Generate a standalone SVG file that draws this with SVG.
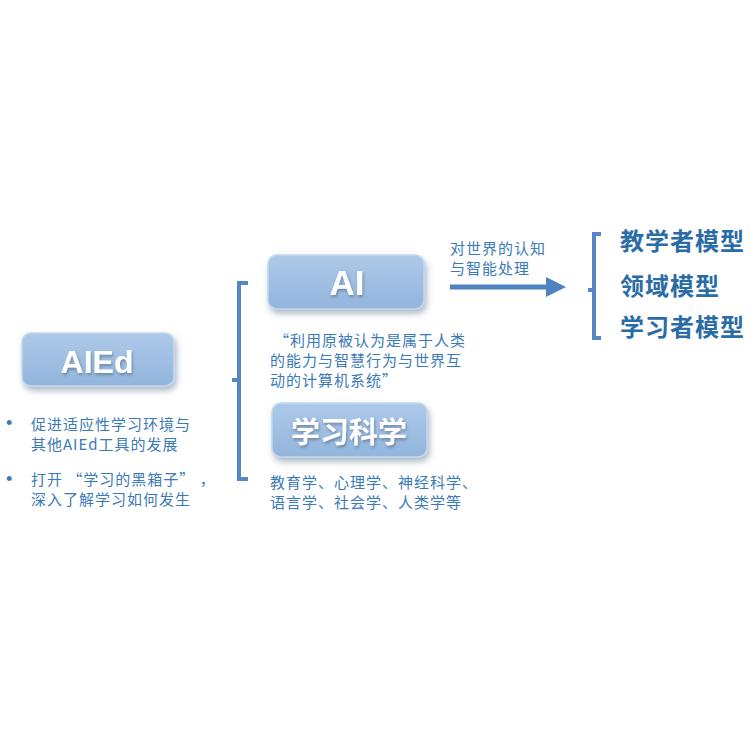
<svg xmlns="http://www.w3.org/2000/svg" width="755" height="755" viewBox="0 0 755 755">
<defs>
<linearGradient id="boxg" x1="0" y1="0" x2="0" y2="1">
<stop offset="0" stop-color="#adc9e9"/>
<stop offset="1" stop-color="#92b5dc"/>
</linearGradient>
<filter id="sh" x="-10%" y="-20%" width="125%" height="150%">
<feDropShadow dx="2" dy="4" stdDeviation="3" flood-color="#6b7f99" flood-opacity="0.55"/>
</filter>
<filter id="tsh" x="-10%" y="-20%" width="130%" height="150%">
<feDropShadow dx="1" dy="2" stdDeviation="1.5" flood-color="#4d6480" flood-opacity="0.6"/>
</filter>
<marker id="ah" markerWidth="4" markerHeight="4" refX="0" refY="2" orient="auto" markerUnits="strokeWidth">
<path d="M0,0 L4,2 L0,4 Z" fill="#4f82c2"/>
</marker>
</defs>
<style>
.box{fill:url(#boxg);stroke:#c3d7ee;stroke-width:1.5;filter:url(#sh);}
.bt{font-family:"Liberation Sans","Noto Sans CJK SC",sans-serif;font-weight:bold;fill:#ffffff;text-anchor:middle;filter:url(#tsh);}
.t{font-family:"Noto Sans CJK SC",sans-serif;font-size:15px;letter-spacing:1px;fill:#3a7ab8;}
.bul{font-family:"Liberation Sans",sans-serif;font-size:18px;fill:#3a7ab8;}
.big{font-family:"Noto Sans CJK SC",sans-serif;font-size:24px;font-weight:bold;fill:#2a6da6;}
.br{fill:none;stroke:#5686c4;stroke-width:4;}
</style>
<rect width="755" height="755" fill="#ffffff"/>

<g id="aied">
<rect class="box" x="22" y="333" width="152" height="53" rx="9"/>
<text class="bt" x="97" y="373" font-size="32">AIEd</text>
<text class="bul" x="6" y="429">•</text>
<text class="t" x="31" y="430">促进适应性学习环境与</text>
<text class="t" x="31" y="450">其他AIEd工具的发展</text>
<text class="bul" x="6" y="485">•</text>
<text class="t" x="31" y="485">打开 “学习的黑箱子” ，</text>
<text class="t" x="31" y="505">深入了解学习如何发生</text>
</g>

<g id="ai">
<rect class="box" x="268" y="255" width="156" height="54" rx="9"/>
<text class="bt" x="347" y="295" font-size="35">AI</text>
<text class="t" x="274" y="346">“利用原被认为是属于人类</text>
<text class="t" x="270" y="366">的能力与智慧行为与世界互</text>
<text class="t" x="270" y="386">动的计算机系统”</text>
</g>

<g id="ls">
<rect class="box" x="272" y="403" width="155" height="54" rx="9"/>
<text class="bt" x="349" y="443" font-size="29">学习科学</text>
<text class="t" x="270" y="488">教育学、心理学、神经科学、</text>
<text class="t" x="270" y="508">语言学、社会学、人类学等</text>
</g>

<g id="models">
<text class="big" x="620" y="250" letter-spacing="1">教学者模型</text>
<text class="big" x="620" y="295" letter-spacing="1">领域模型</text>
<text class="big" x="620" y="336" letter-spacing="1">学习者模型</text>
</g>

<g id="connectors">
<path class="br" d="M248,283 L239,283 L239,479 L248,479 M239,380 L232,380"/>
<path class="br" d="M601,234 L594,234 L594,338 L601,338 M594,290 L588,290"/>
<line x1="450" y1="287" x2="546" y2="287" stroke="#4f82c2" stroke-width="5" marker-end="url(#ah)"/>
<text class="t" x="450" y="254" font-size="14">对世界的认知</text>
<text class="t" x="450" y="274" font-size="14">与智能处理</text>
</g>
</svg>
